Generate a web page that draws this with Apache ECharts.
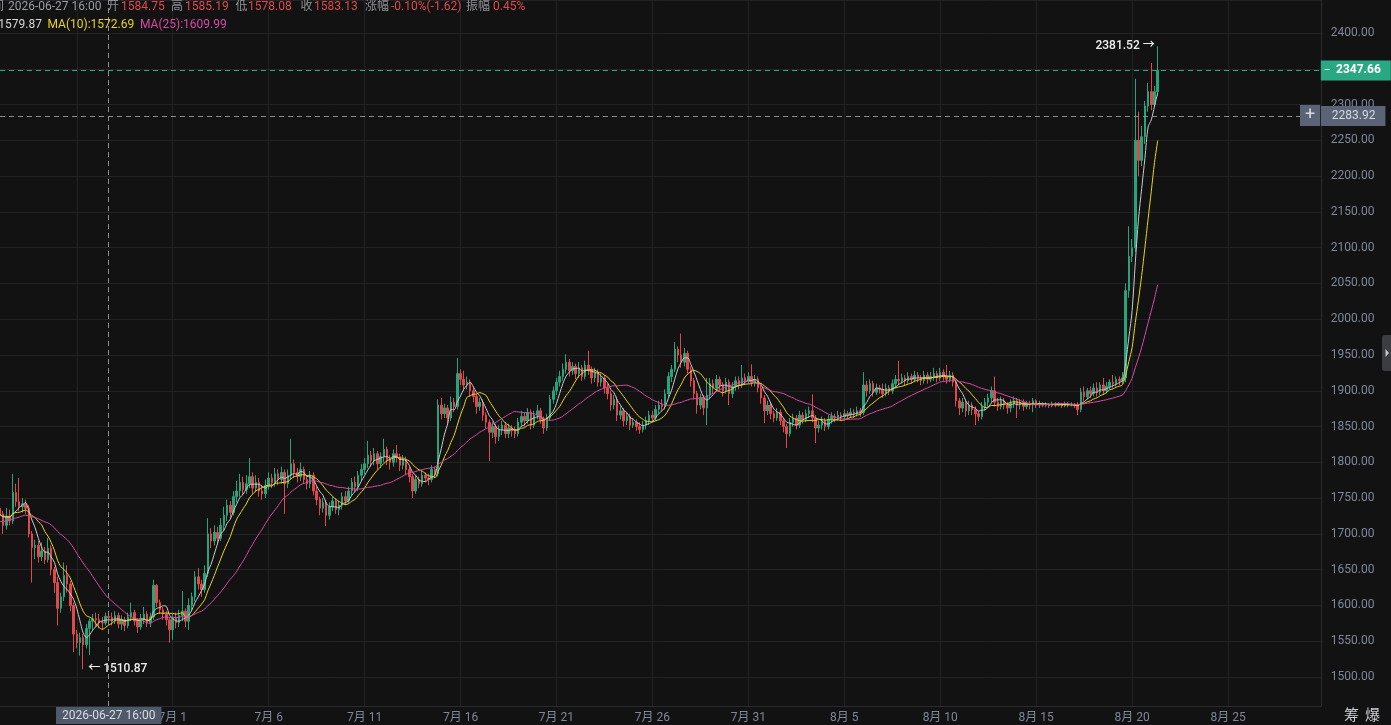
<!DOCTYPE html>
<html><head><meta charset="utf-8">
<script src="https://cdn.jsdelivr.net/npm/echarts@6/dist/echarts.min.js"></script>
<style>html,body{margin:0;padding:0;background:#121212;overflow:hidden}#c{width:1391px;height:725px}</style>
</head><body><div id="c"></div>
<script>
// ---- data ----
const startTime = [2026, 6, 22, 0];          // first category: 2026-06-22 00:00, 4h bars
const barHours = 4;
const categoryCount = 414;                    // includes empty future slots on the right
const tickDays = ['2026-06-26','2026-07-01','2026-07-06','2026-07-11','2026-07-16','2026-07-21','2026-07-26','2026-07-31','2026-08-05','2026-08-10','2026-08-15','2026-08-20','2026-08-25'];
// closes before the first visible bar (only for moving averages)
const prevCloses = [1706,1712,1698,1704,1716,1708,1700,1712,1722,1714,1706,1718,1726,1720,1712,1724,1730,1722,1716,1728,1734,1726,1720,1732];
// [open, close, low, high]
const candles = [
[1736,1728,1722,1740],[1728,1712,1700,1732],[1712,1725,1706,1736],[1725,1718,1712,1734],[1718,1758,1714,1784],[1758,1745,1738,1770],
[1745,1738,1732,1778],[1738,1742,1730,1750],[1742,1736,1728,1748],[1736,1700,1695,1740],[1700,1680.85,1632,1704],[1680.85,1684,1665,1692],
[1684,1668,1660,1690],[1668,1676,1662,1688],[1676,1664,1658,1682],[1664,1680,1660,1694],[1680,1650,1642,1684],[1650,1632,1618,1654],
[1632,1596,1572,1640],[1596,1612,1590,1618],[1612,1642,1606,1660],[1642,1630,1618,1656],[1630,1600,1592,1634],[1600,1560,1535,1604],
[1560,1548,1540,1566],[1548,1555,1530,1562],[1555,1545,1510.87,1560],[1545,1568,1540,1574],[1568,1578,1531,1582],[1578,1581.55,1566,1588],
[1581.55,1580,1570,1590],[1580,1576,1568,1588],[1576,1575.47,1566,1584],[1575.47,1584.75,1572,1590],[1584.75,1583.13,1578.08,1585.19],
[1583.13,1578,1572,1590],[1578,1586,1574,1592],[1586,1574,1568,1590],[1574,1580,1566,1586],[1580,1572,1564,1584],[1572,1584,1568,1590],
[1584,1590,1578,1604],[1590,1578,1572,1594],[1578,1570,1562,1582],[1570,1582,1566,1588],[1582,1588,1574,1598],[1588,1576,1570,1592],
[1576,1584,1570,1590],[1584,1628,1580,1636],[1628,1604,1598,1630],[1604,1594,1588,1608],[1594,1588,1580,1598],[1588,1580,1572,1592],
[1580,1566,1548,1584],[1566,1582,1552,1588],[1582,1576,1568,1590],[1576,1586,1570,1594],[1586,1592,1578,1620],[1592,1578,1570,1596],
[1578,1600,1566,1610],[1600,1612,1592,1618],[1612,1640,1606,1648],[1640,1630,1622,1652],[1630,1622,1612,1636],[1622,1645,1618,1656],
[1645,1700,1640,1722],[1700,1690,1680,1708],[1690,1702,1684,1712],[1702,1694,1686,1710],[1694,1712,1690,1722],[1712,1726,1704,1738],
[1726,1740,1718,1748],[1740,1730,1722,1746],[1730,1752,1726,1760],[1752,1760,1744,1774],[1760,1772,1752,1784],[1772,1762,1754,1780],
[1762,1770,1756,1782],[1770,1780,1764,1806],[1780,1764,1756,1786],[1764,1772,1758,1782],[1772,1760,1752,1778],[1760,1756,1748,1768],
[1756,1768,1750,1776],[1768,1778,1762,1786],[1778,1772,1764,1784],[1772,1784,1766,1792],[1784,1776,1768,1790],[1776,1786,1770,1794],
[1786,1770,1728,1790],[1770,1782,1764,1790],[1782,1798,1776,1833],[1798,1786,1778,1804],[1786,1780,1772,1792],[1780,1790,1774,1800],
[1790,1776,1770,1794],[1776,1770,1762,1782],[1770,1782,1764,1788],[1782,1760,1754,1786],[1760,1748,1740,1766],[1748,1736,1726,1752],
[1736,1744,1730,1750],[1744,1726,1711,1748],[1726,1738,1720,1744],[1738,1746,1732,1752],[1746,1734,1728,1750],[1734,1740,1726,1746],
[1740,1752,1734,1758],[1752,1746,1740,1760],[1746,1760,1742,1766],[1760,1772,1754,1778],[1772,1766,1758,1780],[1766,1782,1760,1788],
[1782,1790,1774,1798],[1790,1798,1784,1806],[1798,1810,1792,1830],[1810,1802,1794,1816],[1802,1812,1796,1820],[1812,1798,1790,1816],
[1798,1808,1792,1814],[1808,1818,1800,1833],[1818,1804,1796,1822],[1804,1800,1790,1810],[1800,1812,1794,1818],[1812,1808,1800,1824],
[1808,1796,1788,1812],[1796,1804,1790,1810],[1804,1790,1782,1808],[1790,1780,1772,1794],[1780,1760,1750,1784],[1760,1776,1756,1782],
[1776,1770,1764,1780],[1770,1782,1766,1788],[1782,1778,1772,1786],[1778,1776,1768,1784],[1776,1790,1772,1796],[1790,1784,1778,1794],
[1784,1880,1780,1888],[1880,1868,1860,1890],[1868,1876,1862,1882],[1876,1862,1854,1880],[1862,1884,1858,1892],[1884,1878,1870,1890],
[1878,1924,1874,1946],[1924,1916,1908,1930],[1916,1908,1900,1928],[1908,1912,1902,1920],[1912,1900,1892,1916],[1900,1892,1884,1906],
[1892,1878,1868,1896],[1878,1884,1872,1890],[1884,1866,1858,1888],[1866,1856,1848,1870],[1856,1842,1802,1860],[1842,1850,1834,1856],
[1850,1836,1826,1854],[1836,1846,1830,1852],[1846,1852,1838,1858],[1852,1840,1834,1856],[1840,1848,1834,1854],[1848,1844,1836,1852],
[1844,1840,1834,1850],[1840,1856,1836,1862],[1856,1864,1850,1872],[1864,1858,1850,1870],[1858,1870,1854,1876],[1870,1852,1846,1874],
[1852,1866,1848,1872],[1866,1872,1860,1880],[1872,1860,1854,1876],[1860,1848,1840,1864],[1848,1862,1844,1868],[1862,1888,1858,1894],
[1888,1900,1882,1906],[1900,1912,1894,1918],[1912,1920,1906,1928],[1920,1930,1914,1938],[1930,1940,1924,1951],[1940,1928,1920,1944],
[1928,1934,1922,1940],[1934,1924,1916,1938],[1924,1932,1918,1940],[1932,1920,1914,1936],[1920,1936,1916,1942],[1936,1930,1922,1956],
[1930,1918,1910,1934],[1918,1926,1912,1932],[1926,1912,1906,1930],[1912,1918,1906,1924],[1918,1904,1896,1922],[1904,1896,1888,1910],
[1896,1880,1872,1900],[1880,1888,1874,1894],[1888,1866,1858,1892],[1866,1872,1860,1878],[1872,1858,1850,1876],[1858,1864,1852,1870],
[1864,1852,1845,1868],[1852,1856,1848,1862],[1856,1850,1844,1860],[1850,1846,1840,1856],[1846,1852,1842,1858],[1852,1858,1846,1864],
[1858,1866,1852,1872],[1866,1862,1856,1872],[1862,1874,1858,1880],[1874,1880,1868,1886],[1880,1878,1872,1888],[1878,1896,1874,1902],
[1896,1920,1890,1926],[1920,1930,1912,1936],[1930,1958,1926,1968],[1958,1950,1940,1962],[1950,1940,1932,1980],[1940,1952,1934,1960],
[1952,1930,1924,1956],[1930,1914,1906,1934],[1914,1896,1888,1918],[1896,1880,1868,1900],[1880,1890,1874,1896],[1890,1876,1866,1894],
[1876,1894,1852,1918],[1894,1910,1888,1918],[1910,1904,1896,1916],[1904,1916,1900,1922],[1916,1908,1900,1920],[1908,1900,1892,1912],
[1900,1912,1896,1918],[1912,1896,1880,1916],[1896,1906,1890,1912],[1906,1914,1900,1920],[1914,1908,1902,1920],[1908,1918,1904,1936],
[1918,1914,1908,1924],[1914,1920,1910,1926],[1920,1912,1906,1937],[1912,1916,1906,1922],[1916,1904,1898,1920],[1904,1890,1882,1908],
[1890,1872,1855,1894],[1872,1880,1866,1886],[1880,1868,1860,1884],[1868,1862,1856,1872],[1862,1870,1858,1876],[1870,1858,1852,1874],
[1858,1850,1842,1862],[1850,1840,1820,1854],[1840,1856,1836,1862],[1856,1862,1850,1868],[1862,1852,1846,1866],[1852,1866,1848,1872],
[1866,1860,1854,1870],[1860,1868,1856,1874],[1868,1872,1862,1878],[1872,1862,1856,1895],[1862,1848,1827,1866],[1848,1852,1842,1858],
[1852,1858,1846,1864],[1858,1850,1844,1862],[1850,1860,1846,1866],[1860,1864,1854,1870],[1864,1862,1856,1868],[1862,1866,1858,1872],
[1866,1864,1858,1870],[1864,1868,1860,1874],[1868,1866,1860,1872],[1866,1870,1862,1876],[1870,1868,1862,1874],[1868,1872,1864,1878],
[1872,1870,1864,1876],[1870,1908,1866,1926],[1908,1900,1892,1914],[1900,1910,1896,1916],[1910,1898,1892,1914],[1898,1904,1894,1910],
[1904,1902,1896,1908],[1902,1896,1890,1910],[1896,1904,1892,1910],[1904,1900,1894,1908],[1900,1910,1896,1916],[1910,1916,1904,1922],
[1916,1914,1908,1942],[1914,1918,1910,1924],[1918,1914,1908,1922],[1914,1920,1910,1926],[1920,1916,1910,1924],[1916,1922,1912,1928],
[1922,1918,1912,1926],[1918,1914,1908,1922],[1914,1922,1910,1928],[1922,1916,1910,1926],[1916,1920,1912,1926],[1920,1924,1914,1932],
[1924,1918,1912,1928],[1918,1926,1914,1932],[1926,1920,1914,1930],[1920,1916,1910,1936],[1916,1922,1912,1928],[1922,1912,1906,1926],
[1912,1886,1878,1916],[1886,1876,1866,1890],[1876,1884,1870,1890],[1884,1872,1864,1888],[1872,1880,1866,1886],[1880,1874,1866,1884],
[1874,1868,1852,1878],[1868,1864,1858,1872],[1864,1878,1860,1884],[1878,1884,1872,1890],[1884,1890,1878,1896],[1890,1900,1884,1906],
[1900,1884,1878,1920],[1884,1878,1872,1890],[1878,1886,1874,1892],[1886,1880,1874,1890],[1880,1876,1868,1884],[1876,1882,1870,1888],
[1882,1886,1876,1892],[1886,1880,1862,1890],[1880,1884,1874,1888],[1884,1878,1872,1888],[1878,1882,1874,1886],[1882,1880,1874,1886],
[1880,1886,1870,1890],[1886,1880,1876,1888],[1880,1882,1876,1886],[1882,1880,1877,1884],[1880,1881,1877,1884],[1881,1879,1876,1883],
[1879,1882,1877,1885],[1882,1880,1877,1884],[1880,1881,1878,1884],[1881,1879,1876,1883],[1879,1882,1877,1885],[1882,1880,1877,1884],
[1880,1881,1878,1884],[1881,1879,1876,1883],[1879,1874,1866,1884],[1874,1898,1870,1904],[1898,1892,1886,1906],[1892,1900,1888,1904],
[1900,1896,1890,1906],[1896,1904,1892,1910],[1904,1898,1892,1912],[1898,1908,1894,1912],[1908,1900,1894,1918],[1900,1906,1896,1912],
[1906,1912,1902,1916],[1912,1910,1904,1922],[1910,1916,1906,1920],[1916,1914,1908,1920],[1914,1918,1910,1926],[1918,2040,1912,2050],
[2040,2088,2030,2130],[2088,2100,2080,2112],[2100,2250,2094,2336],[2250,2222,2200,2290],[2222,2255,2214,2270],[2255,2298,2245,2305],
[2298,2318,2290,2330],[2318,2300,2292,2358],[2300,2318,2296,2326],[2318,2347.66,2312,2381.52]
];
const maPeriods = [5, 10, 25];
const crossTime = '2026-06-27 16:00';
const crossPrice = 2283.92;

// ---- derived ----
const pad = n => String(n).padStart(2, '0');
const categories = [];
const t0 = Date.UTC(startTime[0], startTime[1] - 1, startTime[2], startTime[3]);
for (let i = 0; i < categoryCount; i++) {
  const d = new Date(t0 + i * barHours * 3600e3);
  categories.push(`${d.getUTCFullYear()}-${pad(d.getUTCMonth() + 1)}-${pad(d.getUTCDate())} ${pad(d.getUTCHours())}:00`);
}
const allCloses = prevCloses.concat(candles.map(c => c[1]));
function ma(n) {
  const out = [];
  for (let i = 0; i < candles.length; i++) {
    const j = i + prevCloses.length; let s = 0;
    for (let m = 0; m < n; m++) s += allCloses[j - m];
    out.push(+(s / n).toFixed(2));
  }
  return out;
}
const maData = maPeriods.map(ma);
const lastPrice = candles[candles.length - 1][1];
const ci = categories.indexOf(crossTime);
const cc = candles[ci], pc = candles[ci - 1][1];
const chg = cc[1] - pc;

const FONT = 'Roboto, "Noto Sans CJK SC", sans-serif';
const GRAY = '#8e9096', RED = '#e0494c';
function T(text, x, y, fill, align) {
  return { type: 'text', x: x, y: y, silent: true, z: 100,
    style: { text: text, fill: fill, font: '12px ' + FONT, verticalAlign: 'middle', align: align || 'left' } };
}
const isTick = v => v.slice(11) === '00:00' && tickDays.indexOf(v.slice(0, 10)) >= 0;

const chart = echarts.init(document.getElementById('c'), null, { renderer: 'canvas' });
chart.setOption({
  backgroundColor: '#121212',
  animation: false,
  textStyle: { fontFamily: FONT },
  grid: { left: -0.8, right: 70.2, top: 0, bottom: 19 },
  xAxis: {
    type: 'category', data: categories, boundaryGap: false,
    axisLine: { show: true, lineStyle: { color: '#2a2b2f' } },
    axisTick: { show: false },
    axisLabel: { interval: (i, v) => isTick(v), color: '#7d889c', fontSize: 12, margin: 6,
      formatter: v => (+v.slice(5, 7)) + '月 ' + (+v.slice(8, 10)) },
    splitLine: { show: true, interval: (i, v) => isTick(v), lineStyle: { color: '#222327' } }
  },
  yAxis: {
    type: 'value', position: 'right', min: 1459.5, max: 2446.1, splitNumber: 20, minInterval: 50, maxInterval: 50,
    axisLine: { show: true, lineStyle: { color: '#2a2b2f' } },
    axisTick: { show: false },
    axisLabel: { color: '#7d889c', fontSize: 12, margin: 10, showMinLabel: false, showMaxLabel: false,
      formatter: v => v.toFixed(2) },
    splitLine: { lineStyle: { color: '#222327' } }
  },
  series: [
    {
      type: 'candlestick', data: candles, barWidth: 2,
      itemStyle: { color: '#26a57d', color0: '#e0494c', borderColor: '#26a57d', borderColor0: '#e0494c', borderWidth: 1 },
      markLine: {
        silent: true, symbol: ['none', 'none'], animation: false,
        data: [
          { yAxis: lastPrice, lineStyle: { color: '#2aa783', type: [5, 4], width: 1, opacity: 1 },
            label: { show: true, position: 'end', distance: 0, formatter: '{a|–}{b|' + lastPrice.toFixed(2) + '}',
              backgroundColor: '#2aa783', padding: [4, 10, 4, 3],
              rich: { a: { color: '#fff', fontSize: 11, padding: [0, 5, 0, 0] }, b: { color: '#fff', fontSize: 12, fontWeight: 'bold' } } } },
          { yAxis: crossPrice, lineStyle: { color: '#8a8c92', type: [5, 4], width: 1 },
            label: { show: true, position: 'end', distance: 0, formatter: crossPrice.toFixed(2),
              backgroundColor: '#5a6476', color: '#d5d9e0', fontSize: 12, padding: [4, 10, 4, 11] } },
          { xAxis: crossTime, lineStyle: { color: '#8a8c92', type: [5, 4], width: 1 },
            label: { show: true, position: 'start', distance: 1, formatter: crossTime,
              backgroundColor: '#4f596a', color: '#d8dce3', fontSize: 12, padding: [3, 6, 2, 6] } }
        ]
      },
      markPoint: {
        symbol: 'circle', symbolSize: 0, silent: true, animation: false,
        data: [
          { type: 'max', valueDim: 'highest', label: { show: true, position: 'left', distance: 3, color: '#f0f0f0', fontSize: 12, fontWeight: 500,
              formatter: p => p.value.toFixed(2) + ' →' } },
          { type: 'min', valueDim: 'lowest', label: { show: true, position: 'right', distance: 5, color: '#f0f0f0', fontSize: 12, fontWeight: 500,
              formatter: p => '← ' + p.value.toFixed(2) } }
        ]
      }
    },
    { type: 'line', name: 'MA5', data: maData[0], symbol: 'none', smooth: 0.3, lineStyle: { color: '#c8c8c8', width: 1 } },
    { type: 'line', name: 'MA10', data: maData[1], symbol: 'none', smooth: 0.3, lineStyle: { color: '#e8d41e', width: 1 } },
    { type: 'line', name: 'MA25', data: maData[2], symbol: 'none', smooth: 0.3, lineStyle: { color: '#d64aa6', width: 1 } }
  ],
  graphic: [
    T('间', -8, 6.5, GRAY),
    T(crossTime, 8, 6.5, '#9a9da4'),
    T('开', 107, 6.5, GRAY), T(cc[0].toFixed(2), 121, 6.5, RED),
    T('高', 171, 6.5, GRAY), T(cc[3].toFixed(2), 185, 6.5, RED),
    T('低', 235.5, 6.5, GRAY), T(cc[2].toFixed(2), 248, 6.5, RED),
    T('收', 300.5, 6.5, GRAY), T(cc[1].toFixed(2), 314, 6.5, RED),
    T('涨幅', 365, 6.5, GRAY), T((chg / pc * 100).toFixed(2) + '%(' + chg.toFixed(2) + ')', 391, 6.5, RED),
    T('振幅', 466, 6.5, GRAY), T(((cc[3] - cc[2]) / pc * 100).toFixed(2) + '%', 493, 6.5, RED),
    T('MA(5):' + maData[0][ci].toFixed(2), 42, 24.5, '#d6d6d6', 'right'),
    T('MA(10):' + maData[1][ci].toFixed(2), 47.5, 24.5, '#e8d41e'),
    T('MA(25):' + maData[2][ci].toFixed(2), 140, 24.5, '#d64aa6'),
    { type: 'rect', silent: true, z: 100, shape: { x: 1300, y: 105, width: 20, height: 21 }, style: { fill: '#5a6476' } },
    { type: 'text', silent: true, z: 101, x: 1310, y: 115.5, style: { text: '+', fill: '#d5d9e0', font: '18px ' + FONT, align: 'center', verticalAlign: 'middle' } },
    { type: 'rect', silent: true, z: 100, shape: { x: 1382, y: 335, width: 10, height: 36, r: [3, 0, 0, 3] }, style: { fill: '#3b3d42' } },
    { type: 'polygon', silent: true, z: 101, shape: { points: [[1385.5, 349], [1389, 353], [1385.5, 357]] }, style: { fill: '#c4c6cc' } },
    { type: 'text', silent: true, z: 100, x: 1344, y: 716, style: { text: '筹', fill: '#c9ccd3', font: '15px ' + FONT, verticalAlign: 'middle' } },
    { type: 'text', silent: true, z: 100, x: 1365, y: 716, style: { text: '爆', fill: '#c9ccd3', font: '15px ' + FONT, verticalAlign: 'middle' } }
  ]
});
</script></body></html>
